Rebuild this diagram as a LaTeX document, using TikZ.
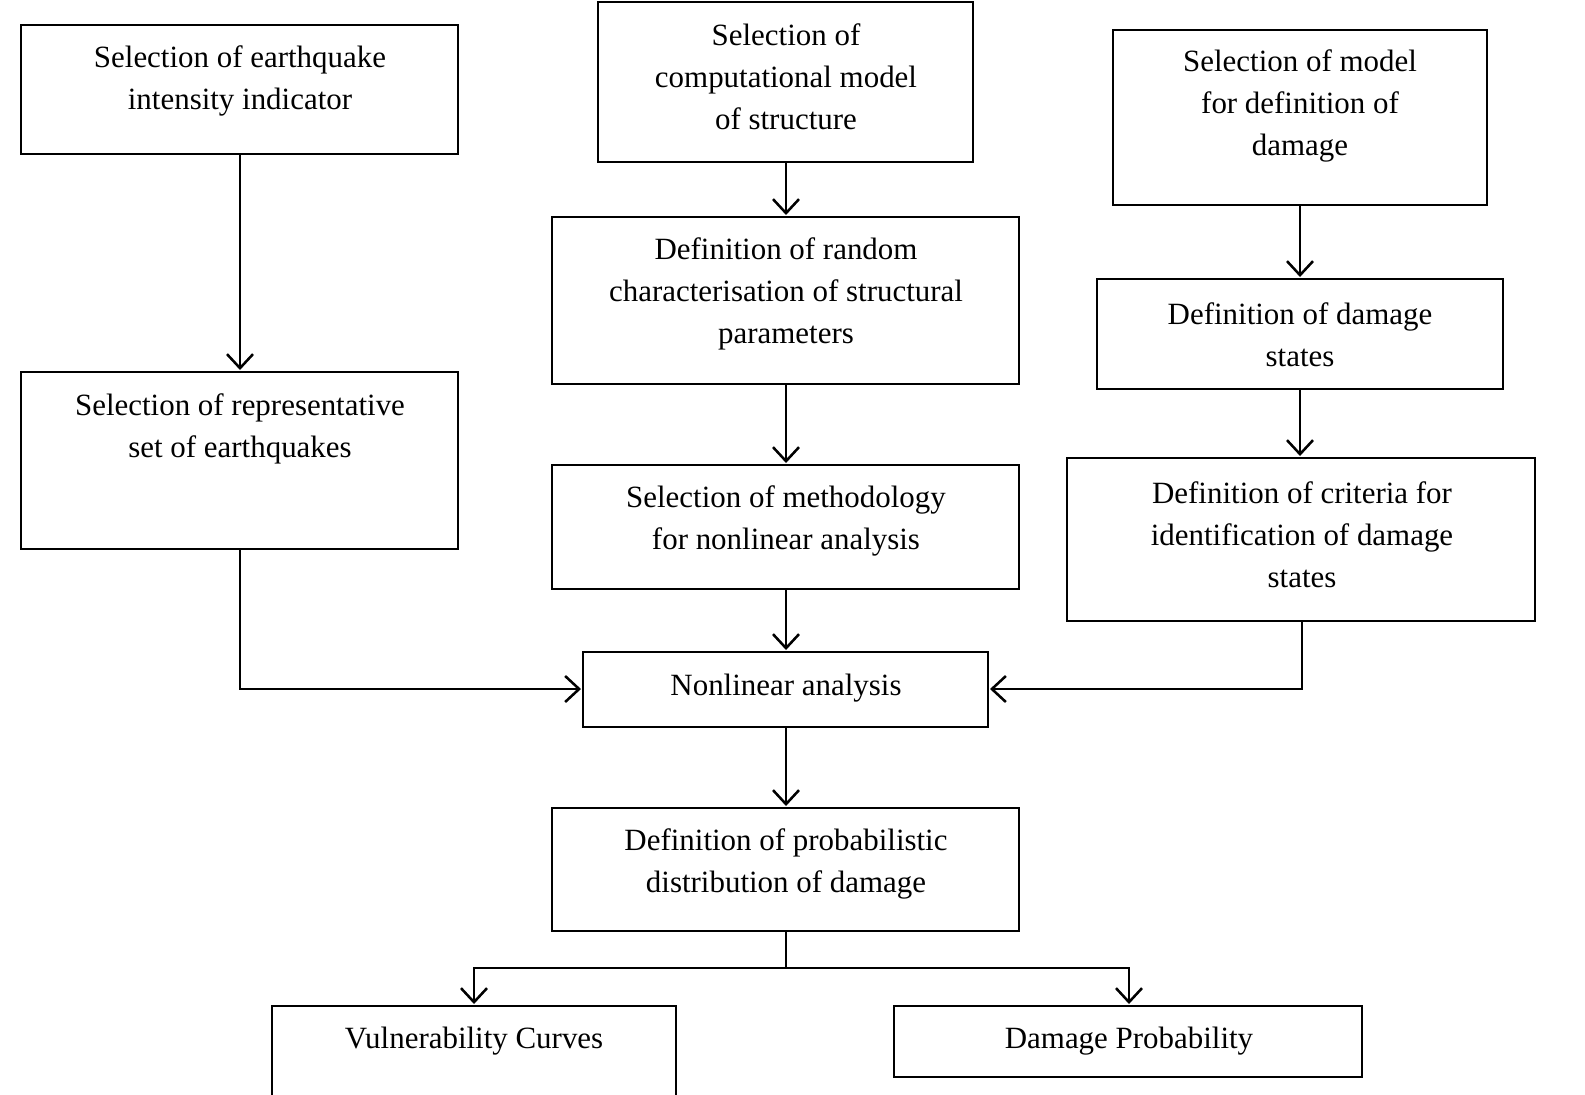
\documentclass[tikz,border=0pt]{standalone}
\usepackage{fontspec}
\setmainfont{Liberation Serif}
\usetikzlibrary{arrows.meta}
\begin{document}
\begin{tikzpicture}[x=0.025cm,y=-0.025cm,
  box/.style={draw,line width=1.2pt},
  txt/.style={align=center,font=\fontsize{22}{30}\selectfont,inner sep=0},
  arr/.style={line width=1.8pt,-{Straight Barb[length=3.5mm,width=6.5mm,line width=1.8pt]}},
  ln/.style={line width=1.8pt}]
\useasboundingbox (0,0) rectangle (1585,1094);
\draw[box] (21,25) rectangle (458,154); \node[txt] (a) at (240,81) {Selection of earthquake\\intensity indicator};
\draw[box] (598,2) rectangle (973,162); \node[txt] (b) at (786,77) {Selection of\\computational model\\of structure};
\draw[box] (1113,30) rectangle (1487,205); \node[txt] (c) at (1300,106) {Selection of model\\for definition of\\damage};
\draw[box] (552,217) rectangle (1019,384); \node[txt] (d) at (786,294) {Definition of random\\characterisation of structural\\parameters};
\draw[box] (1097,279) rectangle (1503,389); \node[txt] (e) at (1300,335) {Definition of damage\\states};
\draw[box] (21,372) rectangle (458,549); \node[txt] (f) at (240,429) {Selection of representative\\set of earthquakes};
\draw[box] (552,465) rectangle (1019,589); \node[txt] (g) at (786,521) {Selection of methodology\\for nonlinear analysis};
\draw[box] (1067,458) rectangle (1535,621); \node[txt] (h) at (1302,535) {Definition of criteria for\\identification of damage\\states};
\draw[box] (583,652) rectangle (988,727); \node[txt] (n) at (786,688) {Nonlinear analysis};
\draw[box] (552,808) rectangle (1019,931); \node[txt] (p) at (786,864) {Definition of probabilistic\\distribution of damage};
\draw[box] (272,1006) rectangle (676,1100); \node[txt] (v) at (474,1041) {Vulnerability Curves};
\draw[box] (894,1006) rectangle (1362,1077); \node[txt] (w) at (1129,1041) {Damage Probability};
\coordinate (as) at (240,154); \coordinate (ft) at (240,370);
\coordinate (bs) at (786,162); \coordinate (dt) at (786,215);
\coordinate (ds) at (786,384); \coordinate (gt) at (786,463);
\coordinate (gs) at (786,589); \coordinate (nt) at (786,650);
\coordinate (cs) at (1300,205); \coordinate (et) at (1300,277);
\coordinate (es) at (1300,389); \coordinate (ht) at (1300,456);
\coordinate (fs) at (240,549); \coordinate (nw) at (581,689);
\coordinate (hs) at (1302,621); \coordinate (ne) at (990,689);
\coordinate (ns) at (786,727); \coordinate (pt) at (786,806);
\coordinate (ps) at (786,931); \coordinate (pj) at (786,968);
\coordinate (vt) at (474,1004); \coordinate (wt) at (1129,1004);
\draw[arr] (as) -- (ft);
\draw[arr] (bs) -- (dt);
\draw[arr] (ds) -- (gt);
\draw[arr] (gs) -- (nt);
\draw[arr] (cs) -- (et);
\draw[arr] (es) -- (ht);
\draw[arr] (fs) |- (nw);
\draw[arr] (hs) |- (ne);
\draw[arr] (ns) -- (pt);
\draw[ln] (ps) -- (pj);
\draw[arr] (pj) -| (vt);
\draw[arr] (pj) -| (wt);
\end{tikzpicture}
\end{document}
